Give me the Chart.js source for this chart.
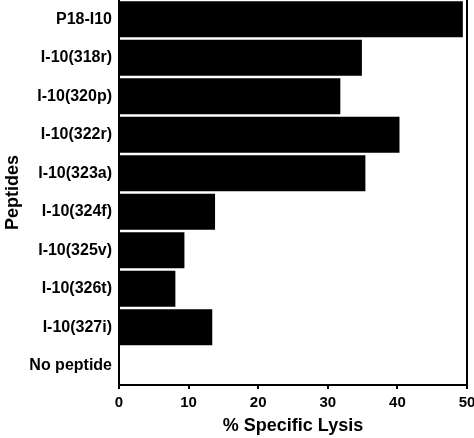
<!DOCTYPE html>
<html>
<head>
<meta charset="utf-8">
<script src="https://cdn.jsdelivr.net/npm/chart.js@4"></script>
<style>
  html, body { margin: 0; padding: 0; background: #fff; }
  #wrap { width: 474px; height: 438px; }
</style>
</head>
<body>
<div id="wrap"><canvas id="lysisChart"></canvas></div>
<script>
const peptides = ["P18-I10", "I-10(318r)", "I-10(320p)", "I-10(322r)", "I-10(323a)",
    "I-10(324f)", "I-10(325v)", "I-10(326t)", "I-10(327i)", "No peptide"]
const lysis = [49.4, 34.9, 31.8, 40.3, 35.4, 13.8, 9.4, 8.1, 13.4, 0]
const xTicks = [0, 10, 20, 30, 40, 50]

const font = "'Liberation Sans', Arial, Helvetica, sans-serif"

const lysisChart = new Chart(document.getElementById("lysisChart").getContext('2d'), {
    type: 'bar',
    data: {
        labels: peptides,
        datasets: [{
            label: "% Specific Lysis",
            data: lysis,
            backgroundColor: "#000",
            borderWidth: 0,
            barPercentage: 0.94,
            categoryPercentage: 1
        }]
    },
    options: {
        indexAxis: 'y',
        responsive: true,
        maintainAspectRatio: false,
        animation: false,
        layout: { padding: { top: 0, right: 7, left: 0, bottom: 0 } },
        plugins: {
            legend: { display: false },
            tooltip: { enabled: false }
        },
        scales: {
            x: {
                min: 0,
                max: 50,
                afterBuildTicks: (scale) => {
                    scale.ticks = xTicks.map(v => ({ value: v }))
                },
                afterFit: (scale) => {
                    scale.height = 53
                    scale.paddingLeft = 0
                    scale.paddingRight = 0
                },
                border: { color: "#000", width: 2 },
                grid: {
                    color: (ctx) => ctx.tick && ctx.tick.value === 50 ? "#000" : "rgba(0,0,0,0)",
                    lineWidth: 2,
                    tickColor: "#000",
                    tickWidth: 2,
                    tickLength: 4
                },
                ticks: {
                    color: "#000",
                    padding: 5,
                    font: { family: font, size: 15, weight: 'bold' }
                },
                title: {
                    display: true,
                    text: "% Specific Lysis",
                    color: "#000",
                    padding: { top: 0, bottom: 1 },
                    font: { family: font, size: 18, weight: 'bold' }
                }
            },
            y: {
                afterFit: (scale) => {
                    scale.width = 119
                    scale.paddingTop = 0
                    scale.paddingBottom = 0
                },
                border: { color: "#000", width: 2 },
                grid: { display: false, drawTicks: false },
                ticks: {
                    color: "#000",
                    padding: 7,
                    font: { family: font, size: 16, weight: 'bold' }
                },
                title: {
                    display: true,
                    text: "Peptides",
                    color: "#000",
                    padding: { top: 2, bottom: 0 },
                    font: { family: font, size: 18, weight: 'bold' }
                }
            }
        }
    }
})
</script>
</body>
</html>
